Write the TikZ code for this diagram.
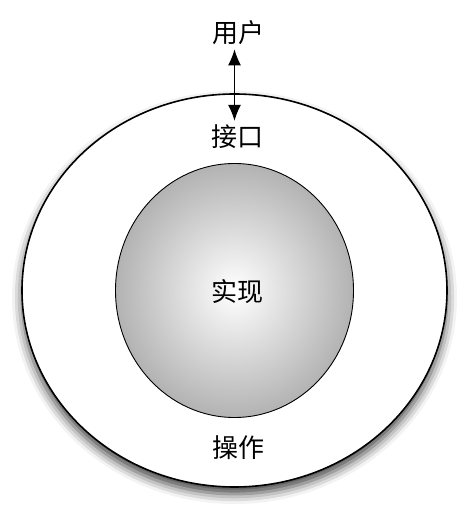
\documentclass[tikz,border=0pt]{standalone}
\usepackage{fontspec}
\newfontfamily\cjk{Noto Sans CJK SC}
\usetikzlibrary{shapes.geometric,arrows.meta,shadows.blur}
\tikzset{
  label text/.style={font=\cjk\fontsize{26}{30}\selectfont, inner sep=4pt},
  layer/.style={ellipse, draw, inner sep=0pt}
}
\begin{document}
\begin{tikzpicture}[x=1pt,y=1pt, >={Latex[length=16pt,width=13pt]}]
\useasboundingbox (-234.5,290.5) rectangle (239.5,-227.5);
\node (outer) [layer, line width=1.6pt, fill=white, minimum width=425pt, minimum height=393pt,
  blur shadow={shadow xshift=0pt, shadow yshift=-7pt, shadow blur radius=10pt, shadow opacity=75}] at (0,0) {};
\node (impl) [layer, line width=0.9pt, minimum width=238pt, minimum height=254pt,
  shading=radial, inner color=white, outer color=black!30] at (0,0) {};
\node (implname) [label text] at (2.5,-1.5) {实现};
\node (iface) [label text] at (2.5,153.5) {接口};
\node (oper) [label text] at (3.5,-157.5) {操作};
\node (user) [label text] at (3.5,257.5) {用户};
\draw [<->, line width=1.2pt]
  (user.south -| 0,0) -- (iface.north -| 0,0);
\end{tikzpicture}
\end{document}
